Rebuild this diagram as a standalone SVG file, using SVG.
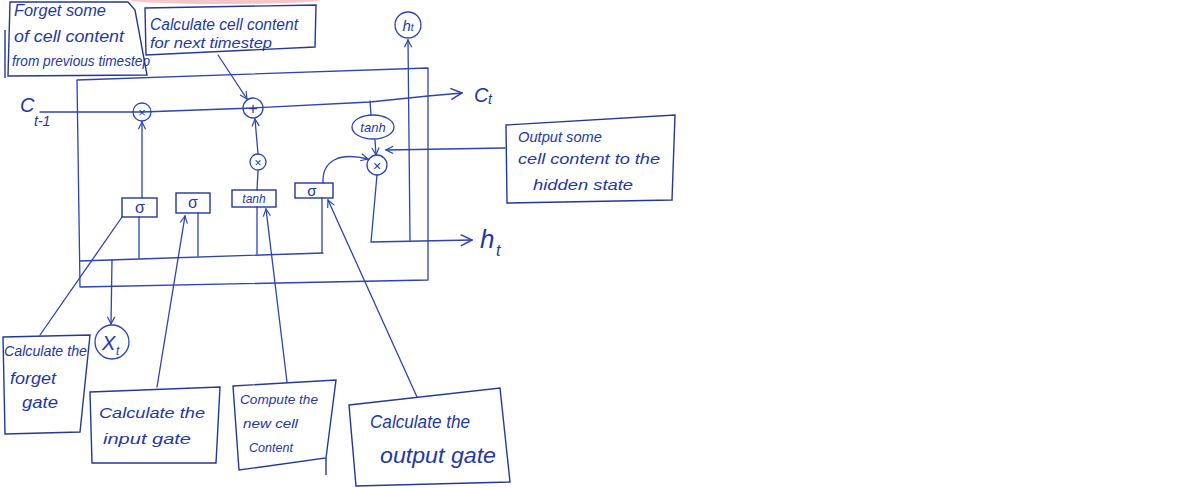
<svg xmlns="http://www.w3.org/2000/svg" width="1200" height="488" viewBox="0 0 1200 488">
<style>
.ln{fill:none;stroke:#2c44b4;stroke-width:1.3;stroke-linecap:round;stroke-linejoin:round}
.bx{fill:none;stroke:#23379f;stroke-width:1.4}
.t{font-family:"Liberation Sans",Arial,sans-serif;font-style:italic;fill:#2237a8}
.gt{font-family:"Liberation Sans",Arial,sans-serif;fill:#2237a8;text-anchor:middle}
</style>
<defs>
<marker id="ah" viewBox="0 0 10 10" refX="9" refY="5" markerWidth="9" markerHeight="9" orient="auto" markerUnits="userSpaceOnUse">
<path d="M1,1 L9,5 L1,9" fill="none" stroke="#2c44b4" stroke-width="1.3"/>
</marker>
<marker id="ahb" viewBox="0 0 10 10" refX="9" refY="5" markerWidth="14" markerHeight="14" orient="auto" markerUnits="userSpaceOnUse">
<path d="M1,1 L9,5 L1,9" fill="none" stroke="#2c44b4" stroke-width="1.1"/>
</marker>
</defs>
<rect width="1200" height="488" fill="#ffffff"/>
<ellipse cx="225" cy="0" rx="95" ry="4" fill="#f2b8bc" opacity="0.8"/>

<g id="connectors" class="ln">
<!-- outer box -->
<path d="M77,80 L428,68 M77,80 L80,287 L428,280 L428,68"/>
<!-- cell state line -->
<path d="M40,112 L142,112 L253,108 L370,102 L428,96 L462,93" marker-end="url(#ahb)"/>
<!-- ht vertical -->
<path d="M410,240 L408,40" marker-end="url(#ah)"/>
<!-- top box to plus -->
<path d="M218,55 L247,99" marker-end="url(#ah)"/>
<!-- sigma1 to multiply -->
<path d="M142,198 L142,122" marker-end="url(#ah)"/>
<!-- tanh gate to x -->
<path d="M257,190 L258,171"/>
<path d="M258,154 L255,119" marker-end="url(#ah)"/>
<!-- cell to tanh ellipse -->
<path d="M370,101 L371,115"/>
<!-- tanh ellipse to x -->
<path d="M375,140 L376,155" marker-end="url(#ah)"/>
<!-- output sigma to x -->
<path d="M323,183 C322,160 340,152 368,159" marker-end="url(#ah)"/>
<!-- right box to x -->
<path d="M505,148 L386,150" marker-end="url(#ah)"/>
<!-- x down to h_t -->
<path d="M377,175 L371,242 L472,240" marker-end="url(#ahb)"/>
<!-- bus -->
<path d="M80,261 L139,259 L323,253"/>
<path d="M139,258 L139,217 M198,256 L198,213 M257,254 L257,207 M322,253 L322,198"/>
<!-- to x_t -->
<path d="M112,260 L111,324" marker-end="url(#ah)"/>
<!-- explanation pointers -->
<path d="M40,335 L122,217"/>
<path d="M157,387 L185,216" marker-end="url(#ah)"/>
<path d="M287,382 L266,209" marker-end="url(#ah)"/>
<path d="M417,397 L328,200" marker-end="url(#ah)"/>
</g>

<g id="c_prev"><text class="t" x="20" y="112" font-size="20">C</text><text class="t" x="34" y="126" font-size="14">t-1</text></g>
<g id="c_t"><text class="t" x="474" y="102" font-size="20">C</text><text class="t" x="488" y="104" font-size="14">t</text></g>
<g id="h_t"><text class="t" x="480" y="248" font-size="26">h</text><text class="t" x="496" y="256" font-size="16">t</text></g>

<g id="h_top"><circle class="ln" cx="408" cy="25" r="13"/><text class="gt" x="408" y="31" font-size="15" font-style="italic">h<tspan font-size="10">t</tspan></text></g>

<g id="mul_forget"><circle class="ln" cx="142" cy="112" r="9"/><text class="gt" x="142" y="117" font-size="13">×</text></g>
<g id="add_cell"><circle class="ln" cx="253" cy="108" r="10"/><text class="gt" x="253" y="114" font-size="16">+</text></g>
<g id="mul_input"><circle class="ln" cx="258" cy="162" r="8"/><text class="gt" x="258" y="167" font-size="12">×</text></g>
<g id="tanh_out"><ellipse class="ln" cx="373" cy="127" rx="21" ry="12"/><text class="gt" x="373" y="132" font-size="13" font-style="italic">tanh</text></g>
<g id="mul_out"><circle class="ln" cx="377" cy="165" r="10"/><text class="gt" x="377" y="171" font-size="14">×</text></g>

<g id="sig_forget"><rect class="bx" x="122" y="198" width="35" height="19"/><text class="gt" x="140" y="213" font-size="16">σ</text></g>
<g id="sig_input"><rect class="bx" x="176" y="193" width="34" height="20"/><text class="gt" x="193" y="208" font-size="16">σ</text></g>
<g id="tanh_gate"><rect class="bx" x="232" y="190" width="44" height="17"/><text class="gt" x="254" y="203" font-size="12" font-style="italic">tanh</text></g>
<g id="sig_output"><rect class="bx" x="295" y="183" width="38" height="15"/><text class="gt" x="312" y="196" font-size="15">σ</text></g>

<g id="x_t"><circle class="ln" cx="112" cy="342" r="17"/><text class="t" x="102" y="350" font-size="20">X</text><text class="t" x="116" y="355" font-size="12">t</text></g>

<g id="note_forget_some">
<path class="bx" d="M10,2 L128,2 L135,10 L147,75 L8,76 Z M5,30 L5,78"/>
<text class="t" x="14" y="16" font-size="17" textLength="92" lengthAdjust="spacingAndGlyphs">Forget some</text>
<text class="t" x="14" y="42" font-size="17" textLength="110" lengthAdjust="spacingAndGlyphs">of cell content</text>
<text class="t" x="12" y="66" font-size="14" textLength="138" lengthAdjust="spacingAndGlyphs">from previous timestep</text>
</g>
<g id="note_calc_cell">
<path class="bx" d="M145,8 L316,5 L315,47 L146,55 Z"/>
<text class="t" x="150" y="30" font-size="16" textLength="148" lengthAdjust="spacingAndGlyphs">Calculate cell content</text>
<text class="t" x="150" y="48" font-size="14" textLength="122" lengthAdjust="spacingAndGlyphs">for next timestep</text>
</g>
<g id="note_output_some">
<path class="bx" d="M506,125 L675,115 L672,200 L507,203 Z"/>
<text class="t" x="518" y="142" font-size="15" textLength="84" lengthAdjust="spacingAndGlyphs">Output some</text>
<text class="t" x="518" y="164" font-size="15" textLength="142" lengthAdjust="spacingAndGlyphs">cell content to the</text>
<text class="t" x="533" y="190" font-size="15" textLength="100" lengthAdjust="spacingAndGlyphs">hidden state</text>
</g>
<g id="note_forget_gate">
<path class="bx" d="M3,337 L90,335 L80,432 L5,434 Z"/>
<text class="t" x="4" y="356" font-size="14" textLength="83" lengthAdjust="spacingAndGlyphs">Calculate the</text>
<text class="t" x="10" y="384" font-size="16" textLength="46" lengthAdjust="spacingAndGlyphs">forget</text>
<text class="t" x="22" y="408" font-size="16" textLength="36" lengthAdjust="spacingAndGlyphs">gate</text>
</g>
<g id="note_input_gate">
<path class="bx" d="M90,392 L220,387 L216,463 L92,463 Z"/>
<text class="t" x="99" y="418" font-size="15" textLength="106" lengthAdjust="spacingAndGlyphs">Calculate the</text>
<text class="t" x="103" y="444" font-size="15" textLength="88" lengthAdjust="spacingAndGlyphs">input gate</text>
</g>
<g id="note_new_cell">
<path class="bx" d="M233,386 L336,380 L326,458 L239,470 Z M326,458 L326,475"/>
<text class="t" x="240" y="404" font-size="13" textLength="78" lengthAdjust="spacingAndGlyphs">Compute the</text>
<text class="t" x="243" y="428" font-size="13" textLength="55" lengthAdjust="spacingAndGlyphs">new cell</text>
<text class="t" x="249" y="452" font-size="13" textLength="44" lengthAdjust="spacingAndGlyphs">Content</text>
</g>
<g id="note_output_gate">
<path class="bx" d="M349,405 L500,388 L510,482 L356,486 Z"/>
<text class="t" x="370" y="428" font-size="19" textLength="100" lengthAdjust="spacingAndGlyphs">Calculate the</text>
<text class="t" x="380" y="463" font-size="22" textLength="116" lengthAdjust="spacingAndGlyphs">output gate</text>
</g>
</svg>
